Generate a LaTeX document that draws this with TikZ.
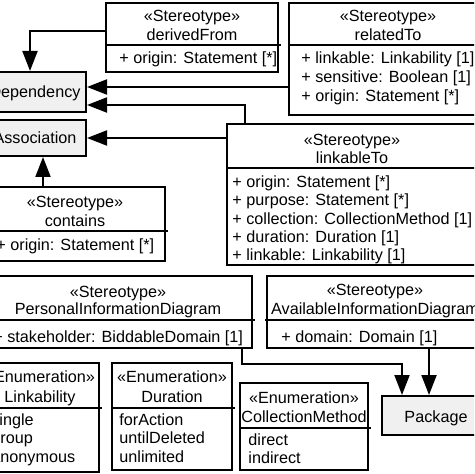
\documentclass[tikz,border=0pt]{standalone}
\usepackage{fontspec}
\setmainfont{Liberation Sans}
\usetikzlibrary{arrows.meta,fit}
\tikzset{
	umlbox/.style={draw, line width=1pt, inner sep=0pt},
	graybox/.style={umlbox, fill=gray!12},
	sep/.style={line width=1pt},
	lbl/.style={inner sep=0pt, text height=5.8pt, text depth=0pt, font=\fontsize{8.1}{9.25}\selectfont},
	gen/.style={line width=1pt, -{Triangle[length=10pt,width=7.5pt]}}
}
\begin{document}
\begin{tikzpicture}[x=0.5pt,y=-0.5pt]
		\useasboundingbox (0,0) rectangle (474,474);
		\clip (0,0) rectangle (474,474);
		
		% derivedFrom
		\node[umlbox, fit={(106,3) (278,72)}] (derived) {};
		\draw[sep] (106,45) -- (281,45);
		\node[lbl] at (192,16) (derivedS) {«Stereotype»};
		\node[lbl] at (192,35) (derivedN) {derivedFrom};
		\node[lbl, anchor=west] at (119,58) (derived1) {+ origin: Statement [*]};
		
		% relatedTo
		\node[umlbox, fit={(289,3) (487,115)}] (related) {};
		\draw[sep] (289,45) -- (487,45);
		\node[lbl] at (388,16) (relatedS) {«Stereotype»};
		\node[lbl] at (388,35) (relatedN) {relatedTo};
		\node[lbl, anchor=west] at (301,58) (related1) {+ linkable: Linkability [1]};
		\node[lbl, anchor=west] at (301,77) (related2) {+ sensitive: Boolean [1]};
		\node[lbl, anchor=west] at (301,96) (related3) {+ origin: Statement [*]};
		
		% Dependency, Association
		\node[graybox, fit={(-17,72) (86,112)}] (dep) {};
		\node[lbl] at (35,92) (depN) {Dependency};
		\node[graybox, fit={(-17,120) (86,156)}] (assoc) {};
		\node[lbl] at (35,138) (assocN) {Association};
		
		% linkableTo
		\node[umlbox, fit={(227,124) (477,265)}] (linkable) {};
		\draw[sep] (227,168) -- (477,168);
		\node[lbl] at (352,140) (linkableS) {«Stereotype»};
		\node[lbl] at (352,158) (linkableN) {linkableTo};
		\node[lbl, anchor=west] at (232,182) (linkable1) {+ origin: Statement [*]};
		\node[lbl, anchor=west] at (232,200) (linkable2) {+ purpose: Statement [*]};
		\node[lbl, anchor=west] at (232,219) (linkable3) {+ collection: CollectionMethod [1]};
		\node[lbl, anchor=west] at (232,237) (linkable4) {+ duration: Duration [1]};
		\node[lbl, anchor=west] at (232,255) (linkable5) {+ linkable: Linkability [1]};
		
		% contains
		\node[umlbox, fit={(-15,187) (165,261)}] (contains) {};
		\draw[sep] (-15,231) -- (168,231);
		\node[lbl] at (75,202) (containsS) {«Stereotype»};
		\node[lbl] at (75,221) (containsN) {contains};
		\node[lbl, anchor=west] at (-4,245) (contains1) {+ origin: Statement [*]};
		
		% PersonalInformationDiagram
		\node[umlbox, fit={(-16,276) (252,348)}] (pid) {};
		\draw[sep] (-16,320) -- (255,320);
		\node[lbl] at (118,292) (pidS) {«Stereotype»};
		\node[lbl] at (118,309) (pidN) {PersonalInformationDiagram};
		\node[lbl, anchor=west] at (-7,337) (pid1) {+ stakeholder: BiddableDomain [1]};
		
		% AvailableInformationDiagram
		\node[umlbox, fit={(267,276) (483,348)}] (aid) {};
		\draw[sep] (265,320) -- (483,320);
		\node[lbl] at (375,290) (aidS) {«Stereotype»};
		\node[lbl] at (375,309) (aidN) {AvailableInformationDiagram};
		\node[lbl, anchor=west] at (281,337) (aid1) {+ domain: Domain [1]};
		
		% Package
		\node[graybox, fit={(382,396) (490,435)}] (pkg) {};
		\node[lbl] at (436,417) (pkgN) {Package};
		
		% enumerations
		\node[umlbox, fit={(-20,363) (99,472)}] (linkability) {};
		\draw[sep] (-20,408) -- (102,408);
		\node[lbl] at (40,377) (linkabilityS) {«Enumeration»};
		\node[lbl] at (40,397) (linkabilityN) {Linkability};
		\node[lbl, anchor=west] at (-9,420) (linkability1) {single};
		\node[lbl, anchor=west] at (-9,438) (linkability2) {group};
		\node[lbl, anchor=west] at (-9,457) (linkability3) {anonymous};
		
		\node[umlbox, fit={(112,363) (232,470)}] (duration) {};
		\draw[sep] (112,408) -- (235,408);
		\node[lbl] at (172,377) (durationS) {«Enumeration»};
		\node[lbl] at (172,397) (durationN) {Duration};
		\node[lbl, anchor=west] at (119,420) (duration1) {forAction};
		\node[lbl, anchor=west] at (119,438) (duration2) {untilDeleted};
		\node[lbl, anchor=west] at (119,457) (duration3) {unlimited};
		
		\node[umlbox, fit={(240,383) (368,470)}] (collection) {};
		\draw[sep] (240,428) -- (371,428);
		\node[lbl] at (304,398) (collectionS) {«Enumeration»};
		\node[lbl] at (304,417) (collectionN) {CollectionMethod};
		\node[lbl, anchor=west] at (248,440) (collection1) {direct};
		\node[lbl, anchor=west] at (248,458) (collection2) {indirect};
		
		% generalisations
		\draw[gen] (derived.west |- 0,31) -| (dep.north -| 30,0);
		\draw[gen] (related.west |- 0,87) -- (dep.east |- 0,87);
		\draw[gen] (linkable.north -| 245,0) |- (dep.east |- 0,105);
		\draw[gen] (linkable.west |- assoc.east) -- (assoc.east);
		\draw[gen] (contains.north -| 43,0) -- (assoc.south -| 43,0);
		\draw[gen] (pid.south -| 242,0) -- (242,364) -| (pkg.north -| 402,0);
		\draw[gen] (aid.south -| 429,0) -- (pkg.north -| 429,0);
\end{tikzpicture}
\end{document}
